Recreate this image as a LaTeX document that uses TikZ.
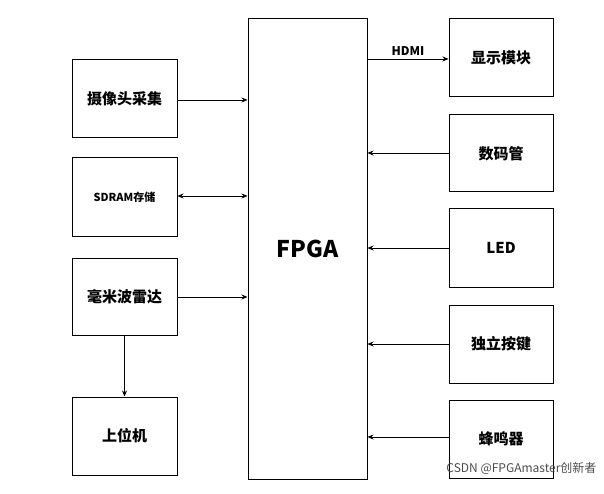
\documentclass[tikz,border=0pt]{standalone}
\usepackage{fontspec}
\setmainfont{Noto Sans CJK SC}
\usetikzlibrary{arrows.meta}
\begin{document}
\begin{tikzpicture}[x=1pt,y=-1pt,
  box/.style={draw,line width=1pt,inner sep=0pt,font=\bfseries\fontsize{15}{17}\selectfont},
  arr/.style={-{Stealth[length=6pt,width=5pt]},line width=0.8pt}]
\useasboundingbox (0,0) rectangle (604,494);
\node[box,minimum width=119pt,minimum height=460pt,font=\bfseries\fontsize{23}{27}\selectfont] (f) at (307.5,249) {FPGA};
\node[box,minimum width=105pt,minimum height=78pt] (cam) at (124.5,99) {摄像头采集};
\node[box,minimum width=105pt,minimum height=78pt,font=\bfseries\fontsize{11}{13}\selectfont] (sd) at (124.5,197) {SDRAM存储};
\node[box,minimum width=105pt,minimum height=77pt] (mm) at (124.5,296.5) {毫米波雷达};
\node[box,minimum width=105pt,minimum height=78pt] (pc) at (124.5,436) {上位机};
\node[box,minimum width=104pt,minimum height=78pt] (disp) at (501,58) {显示模块};
\node[box,minimum width=104pt,minimum height=77pt] (seg) at (501,153.5) {数码管};
\node[box,minimum width=104pt,minimum height=78pt] (led) at (501,248) {LED};
\node[box,minimum width=104pt,minimum height=78pt] (key) at (501,344) {独立按键};
\node[box,minimum width=104pt,minimum height=78pt] (bz) at (501,439) {蜂鸣器};
\draw[arr] (cam.east|-0,100) -- (f.west|-0,100);
\draw[arr,{Stealth[length=6pt,width=5pt]}-{Stealth[length=6pt,width=5pt]}] (sd.east|-0,196) -- (f.west|-0,196);
\draw[arr] (mm.east|-0,297) -- (f.west|-0,297);
\draw[arr] (mm.south) -- (pc.north);
\draw[arr] (f.east|-0,59) -- node[above,font=\bfseries\fontsize{12}{14}\selectfont]{HDMI} (disp.west|-0,59);
\draw[arr] (seg.west|-0,153) -- (f.east|-0,153);
\draw[arr] (led.west|-0,248) -- (f.east|-0,248);
\draw[arr] (key.west|-0,344) -- (f.east|-0,344);
\draw[arr] (bz.west|-0,437) -- (f.east|-0,437);
\node[text=gray!60!black,font=\fontsize{12}{14}\selectfont,anchor=east] (wm) at (600,468) {CSDN @FPGAmaster创新者};
\end{tikzpicture}
\end{document}
